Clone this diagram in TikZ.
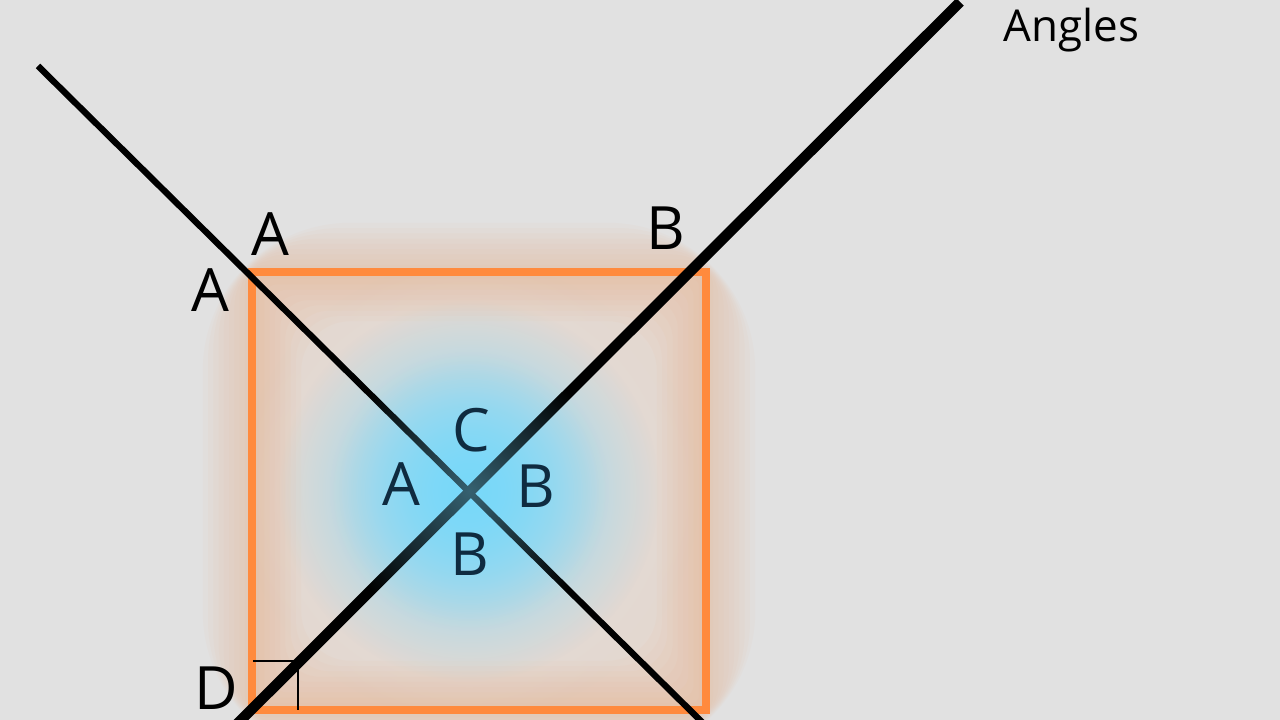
\documentclass[tikz,border=0pt]{standalone}
\usepackage{fontspec}
\setmainfont{Open Sans}
\usetikzlibrary{fadings}
\definecolor{bggray}{HTML}{E1E1E1}
\definecolor{sqorange}{HTML}{FF8A3D}
\definecolor{glowblue}{HTML}{78D8FA}
\definecolor{inkblue}{HTML}{0F2B40}
\tikzfading[name=softglow, inner color=transparent!0, outer color=transparent!100]
\tikzset{
    every node/.style={inner sep=0pt, font=\fontsize{17}{20}\selectfont}
}
\tikzset{
    ray/.style={line width=1.8pt, black},
    thickray/.style={line width=3pt, black},
    edgebox/.style={draw=sqorange, line width=2.3pt},
    haze/.style={draw=sqorange, opacity=0.028}
}

\begin{document}
\begin{tikzpicture}
  \useasboundingbox[fill=bggray] (0,0) rectangle (12.8,7.2);

  \coordinate (tl) at (2.52,4.48);
  \coordinate (br) at (7.06,0.10);
  \coordinate (X) at (4.69,2.29);
  \coordinate (p1) at (0.38,6.54);
  \coordinate (p2) at (7.05,-0.05);
  \coordinate (q1) at (9.60,7.18);
  \coordinate (q2) at (2.36,-0.05);
  \coordinate (m1) at (2.53,0.59);
  \coordinate (m2) at (2.98,0.59);
  \coordinate (m3) at (2.98,0.10);

  \foreach \w in {28,25,...,4} {
    \draw[haze, line width=\w pt, rounded corners=\w pt] (tl) rectangle (br);
  }
  \fill[sqorange, opacity=0.1] (tl) rectangle (br);
  \fill[bggray, opacity=0.8, path fading=softglow] (X) circle (2.3);
  \fill[glowblue, path fading=softglow] (X) circle (1.9);
  \fill[glowblue, opacity=0.7, path fading=softglow] (X) circle (1.3);
  \draw[edgebox] (tl) rectangle (br);

  \draw[ray] (p1) -- (p2);
  \draw[thickray] (q1) -- (q2);
  \draw[line width=0.6pt] (m1) -- (m2) -- (m3);
  \fill[glowblue, opacity=0.45, path fading=softglow] (X) circle (1.4);

  \node (atop) at (2.70,4.86) {A};
  \node (aleft) at (2.10,4.30) {A};
  \node (btop) at (6.66,4.92) {B};
  \node (cmid) [text=inkblue] at (4.71,2.90) {C};
  \node (amid) [text=inkblue] at (4.01,2.36) {A};
  \node (bmid) [text=inkblue] at (5.36,2.34) {B};
  \node (blow) [text=inkblue] at (4.70,1.66) {B};
  \node (dcorner) at (2.16,0.32) {D};
  \node (title) [anchor=base west, font=\fontsize{12.5}{15}\selectfont] at (10.03,6.78) {Angles};
\end{tikzpicture}
\end{document}
